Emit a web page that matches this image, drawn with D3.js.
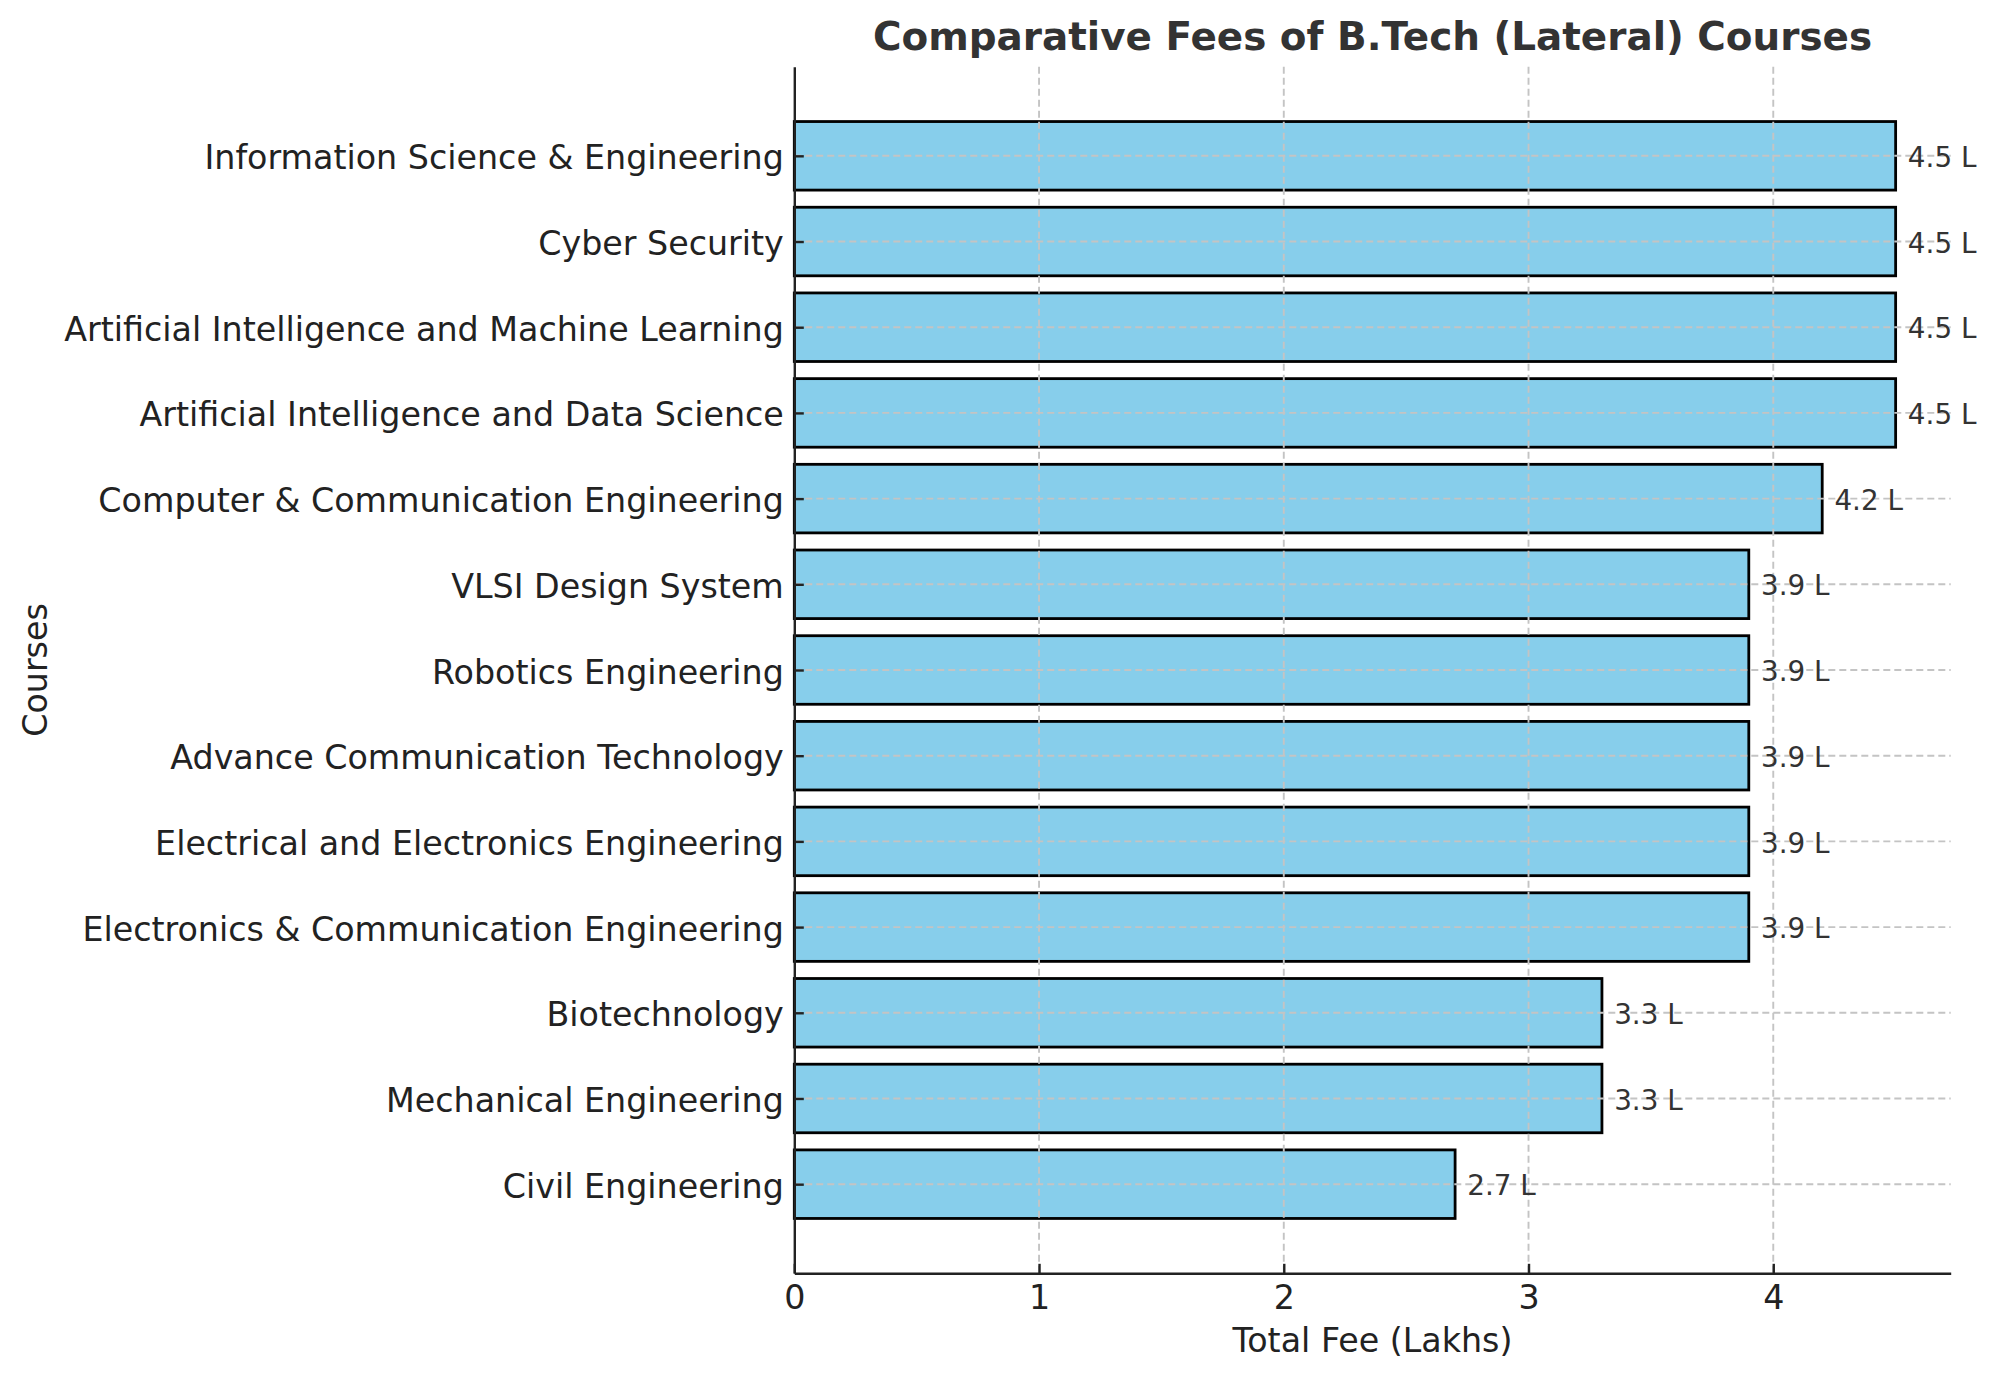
<!DOCTYPE html>
<html>
<head>
<meta charset="utf-8">
<script src="https://cdn.jsdelivr.net/npm/d3@7"></script>
<style>
  html, body { margin: 0; padding: 0; background: #fff; }
  svg { display: block; font-family: "DejaVu Sans", sans-serif; }
</style>
</head>
<body>
<div id="chart"></div>
<script>
// Course names, bottom to top (as plotted)
const courses = [
  'Civil Engineering',
  'Mechanical Engineering',
  'Biotechnology',
  'Electronics & Communication Engineering',
  'Electrical and Electronics Engineering',
  'Advance Communication Technology',
  'Robotics Engineering',
  'VLSI Design System',
  'Computer & Communication Engineering',
  'Artificial Intelligence and Data Science',
  'Artificial Intelligence and Machine Learning',
  'Cyber Security',
  'Information Science & Engineering'
];
const fees = [2.7, 3.3, 3.3, 3.9, 3.9, 3.9, 3.9, 3.9, 4.2, 4.5, 4.5, 4.5, 4.5];
const xTicks = [0, 1, 2, 3, 4];

const width = 1994, height = 1380;
const margin = { top: 66.7, right: 1994 - 1950.7, bottom: 1380 - 1273.3, left: 794.3 };
const barH = 0.8;

const svg = d3.select('#chart').append('svg')
  .attr('width', width)
  .attr('height', height);

// matplotlib-like autoscale: 5% margins on data limits
const xMax = d3.max(fees) * 1.05;
const x = d3.scaleLinear()
  .domain([0, xMax])
  .range([margin.left, width - margin.right]);

const yLo = -barH / 2, yHi = courses.length - 1 + barH / 2;
const yPad = (yHi - yLo) * 0.05;
const y = d3.scaleLinear()
  .domain([yLo - yPad, yHi + yPad])
  .range([height - margin.bottom, margin.top]);

const bandPx = Math.abs(y(barH) - y(0));

// Bars
svg.append('g')
  .selectAll('rect')
  .data(fees)
  .join('rect')
  .attr('x', x(0))
  .attr('y', (d, i) => y(i + barH / 2))
  .attr('width', d => x(d) - x(0))
  .attr('height', bandPx)
  .attr('fill', '#87CEEB')
  .attr('stroke', '#000')
  .attr('stroke-width', 2.8);

// Grid (drawn above bars, like the reference)
const grid = svg.append('g')
  .attr('stroke', '#c4c4c4')
  .attr('stroke-width', 1.9)
  .attr('stroke-dasharray', '7,4')
  .attr('fill', 'none');

grid.selectAll('.vgrid')
  .data(xTicks.filter(t => t > 0))
  .join('line')
  .attr('x1', d => x(d)).attr('x2', d => x(d))
  .attr('y1', margin.top).attr('y2', height - margin.bottom);

grid.selectAll('.hgrid')
  .data(courses)
  .join('line')
  .attr('x1', x(0)).attr('x2', width - margin.right)
  .attr('y1', (d, i) => y(i)).attr('y2', (d, i) => y(i));

// Value labels
svg.append('g')
  .selectAll('text')
  .data(fees)
  .join('text')
  .attr('x', d => x(d + 0.05))
  .attr('y', (d, i) => y(i))
  .attr('dy', '0.4em')
  .attr('font-size', '27.8px')
  .attr('fill', '#333')
  .text(d => d.toFixed(1) + ' L');

// Axes
const xAxis = d3.axisBottom(x)
  .tickValues(xTicks)
  .tickFormat(d3.format('d'))
  .tickSizeInner(-9.5)
  .tickSizeOuter(0)
  .tickPadding(12);

const gx = svg.append('g')
  .attr('transform', `translate(0,${height - margin.bottom})`)
  .call(xAxis);
gx.select('.domain').attr('stroke', '#222').attr('stroke-width', 2.4);
gx.selectAll('.tick line').attr('stroke', '#222').attr('stroke-width', 2.4);
gx.selectAll('.tick text')
  .attr('font-size', '33.3px')
  .attr('font-family', '"DejaVu Sans", sans-serif')
  .attr('fill', '#222');

const yAxis = d3.axisLeft(y)
  .tickValues(d3.range(courses.length))
  .tickFormat(i => courses[i])
  .tickSizeInner(-9.5)
  .tickSizeOuter(0)
  .tickPadding(10.5);

const gy = svg.append('g')
  .attr('transform', `translate(${margin.left},0)`)
  .call(yAxis);
gy.select('.domain').attr('stroke', '#222').attr('stroke-width', 2.4);
gy.selectAll('.tick line').attr('stroke', '#222').attr('stroke-width', 2.4);
gy.selectAll('.tick text')
  .attr('font-size', '33.3px')
  .attr('font-family', '"DejaVu Sans", sans-serif')
  .attr('fill', '#222')
  .attr('dy', '0.39em');

// Axis titles
svg.append('text')
  .attr('x', (x.range()[0] + x.range()[1]) / 2)
  .attr('y', 1352)
  .attr('text-anchor', 'middle')
  .attr('font-size', '33.3px')
  .attr('fill', '#222')
  .text('Total Fee (Lakhs)');

svg.append('text')
  .attr('transform', `translate(47,${(y.range()[0] + y.range()[1]) / 2}) rotate(-90)`)
  .attr('text-anchor', 'middle')
  .attr('font-size', '33.3px')
  .attr('fill', '#222')
  .text('Courses');

// Title
svg.append('text')
  .attr('x', (x.range()[0] + x.range()[1]) / 2)
  .attr('y', 50)
  .attr('text-anchor', 'middle')
  .attr('font-size', '38.9px')
  .attr('font-weight', 'bold')
  .attr('fill', '#333')
  .text('Comparative Fees of B.Tech (Lateral) Courses');
</script>
</body>
</html>
